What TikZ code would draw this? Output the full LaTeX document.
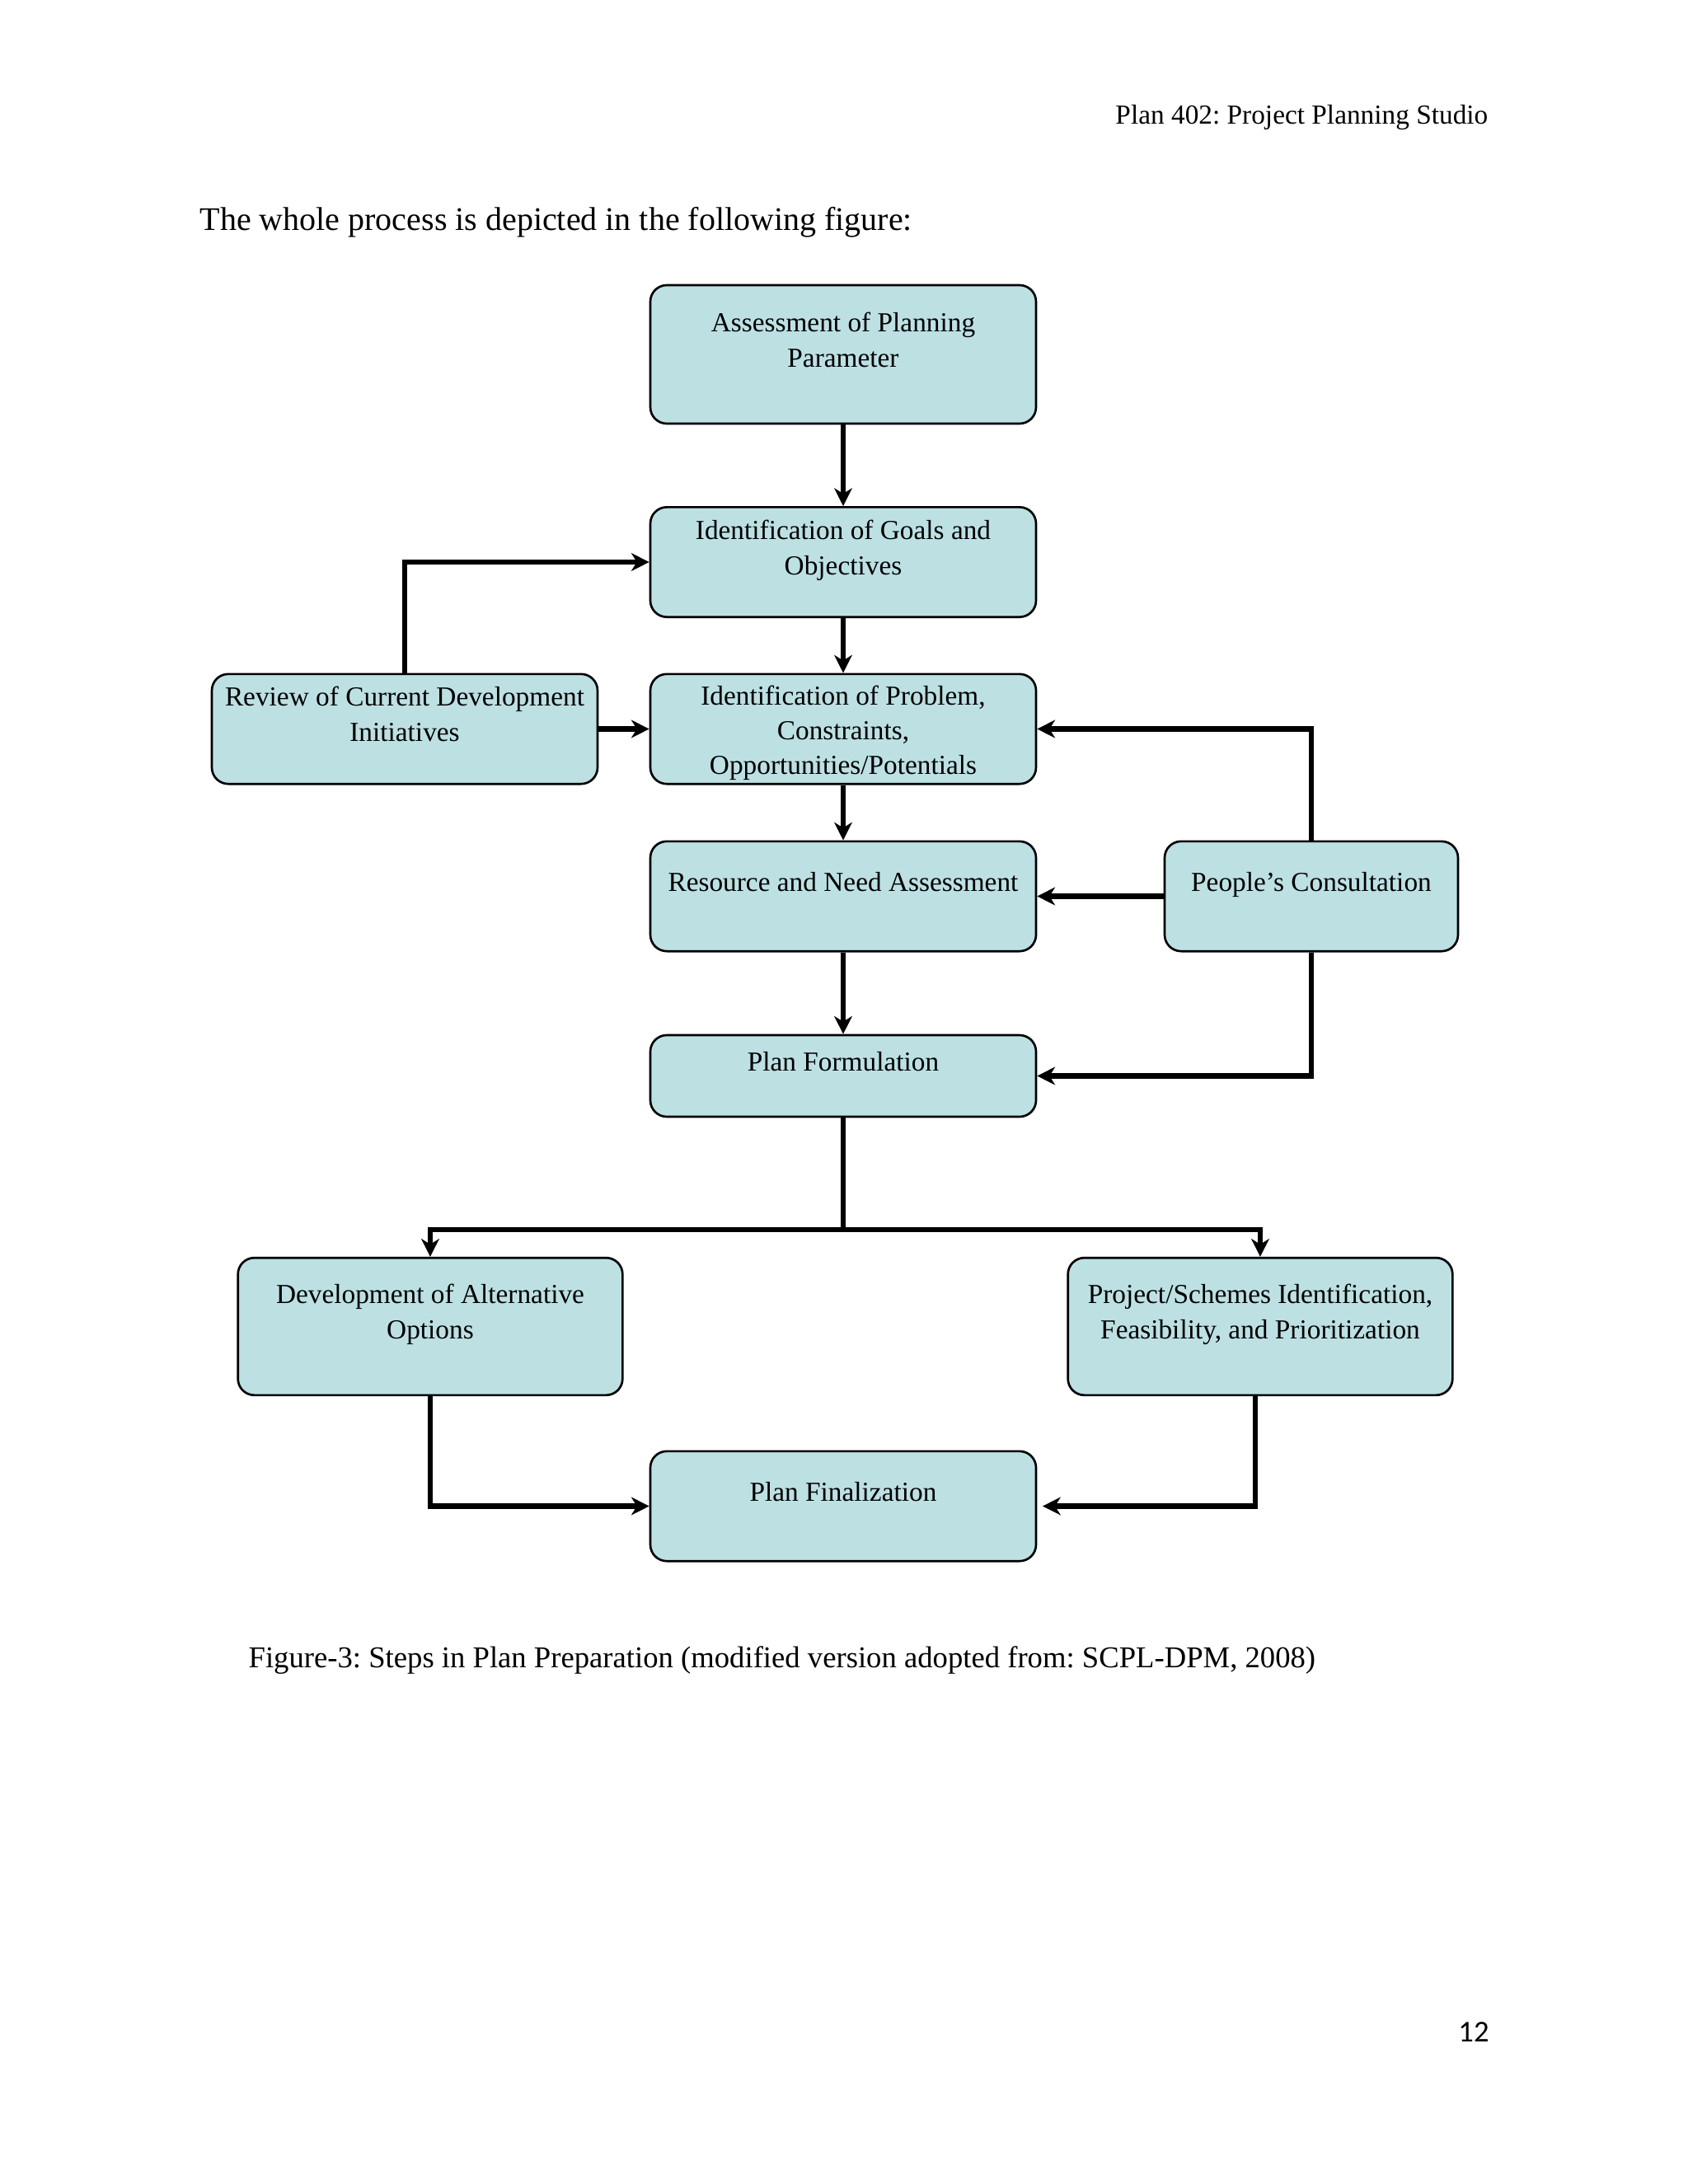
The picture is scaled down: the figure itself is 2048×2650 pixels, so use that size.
\documentclass[tikz,border=0pt]{standalone}
\usepackage{fontspec}
\setmainfont{Liberation Serif}
\newfontfamily\pagefont{Carlito}
\usetikzlibrary{arrows.meta}
\definecolor{stepfill}{RGB}{189,224,227}
\frenchspacing
% box text, lifted a little above the middle of the box
\newcommand{\steptext}[2][9pt]{\begin{tabular}{@{}c@{}}#2\\[#1]\end{tabular}}
\begin{document}
\begin{tikzpicture}[x=0.3pt, y=-0.3pt,
    stepbox/.style={draw=black, line width=0.8pt, rounded corners=6pt, fill=stepfill,
      inner xsep=2pt, inner ysep=1pt, minimum width=140.4pt, minimum height=40pt,
      font=\fontsize{10}{13}\selectfont},
    pagetext/.style={inner sep=0pt},
    flow/.style={line width=1.9pt, -{Stealth[length=6.5pt, width=6.5pt, inset=2pt]}}]
    \useasboundingbox (0,0) rectangle (2048,2650);

    % page text
    \node[pagetext, anchor=base east, font=\fontsize{10}{12}\selectfont] (header) at (1806,150) {Plan 402: Project Planning Studio};
    \node[pagetext, anchor=base west, font=\fontsize{12}{14}\selectfont] (intro) at (242,279) {The whole process is depicted in the following figure:};

    % main column
    \node[stepbox, minimum height=50.4pt] (assess) at (1023,430) {\steptext{Assessment of Planning\\Parameter}};
    \node[stepbox] (goals) at (1023,682) {\steptext{Identification of Goals and\\Objectives}};
    \node[stepbox, font=\fontsize{10}{12.6}\selectfont] (problem) at (1023,884.5) {\steptext[-3pt]{Identification of Problem,\\Constraints,\\Opportunities/Potentials}};
    \node[stepbox] (resource) at (1023,1087.5) {\steptext{Resource and Need Assessment}};
    \node[stepbox, minimum height=29.7pt] (planform) at (1023,1305.5) {\steptext{Plan Formulation}};

    % side boxes
    \node[stepbox] (review) at (491,884.5) {\steptext{Review of Current Development\\Initiatives}};
    \node[stepbox, minimum width=106.8pt] (people) at (1591,1087.5) {\steptext{People’s Consultation}};

    % bottom boxes
    \node[stepbox, minimum width=140pt, minimum height=50pt] (devalt) at (522,1609.5) {\steptext{Development of Alternative\\Options}};
    \node[stepbox, minimum width=140pt, minimum height=50pt] (project) at (1529,1609.5) {\steptext{Project/Schemes Identification,\\Feasibility, and Prioritization}};
    \node[stepbox] (final) at (1023,1827.5) {\steptext{Plan Finalization}};

    % main column arrows
    \draw[flow] (assess) -- (goals);
    \draw[flow] (goals) -- (problem);
    \draw[flow] (problem) -- (resource);
    \draw[flow] (resource) -- (planform);

    % review arrows
    \draw[flow] (review.north) |- (goals.west);
    \draw[flow] (review) -- (problem);

    % consultation arrows
    \draw[flow] (people.north) |- (problem.east);
    \draw[flow] (people) -- (resource);
    \draw[flow] (people.south) |- (planform.east);

    % split after formulation
    \coordinate (split) at (1023,1492);
    \draw[line width=1.9pt] (planform.south) -- (split);
    \draw[flow] (split) -| (devalt.north);
    \draw[flow] (split) -| (project.north);

    % into finalization
    \draw[flow] (devalt.south) |- (final.west);
    \draw[flow, shorten >=2pt] ([xshift=-1.8pt]project.south) |- (final.east);

    % caption and page number
    \node[pagetext, anchor=base west, font=\fontsize{11}{13}\selectfont] (caption) at (301,2023) {Figure-3: Steps in Plan Preparation (modified version adopted from: SCPL-DPM, 2008)};
    \node[pagetext, anchor=base, font=\pagefont\fontsize{11}{13}\selectfont] (pagenum) at (1788,2477) {12};
  \end{tikzpicture}
\end{document}
